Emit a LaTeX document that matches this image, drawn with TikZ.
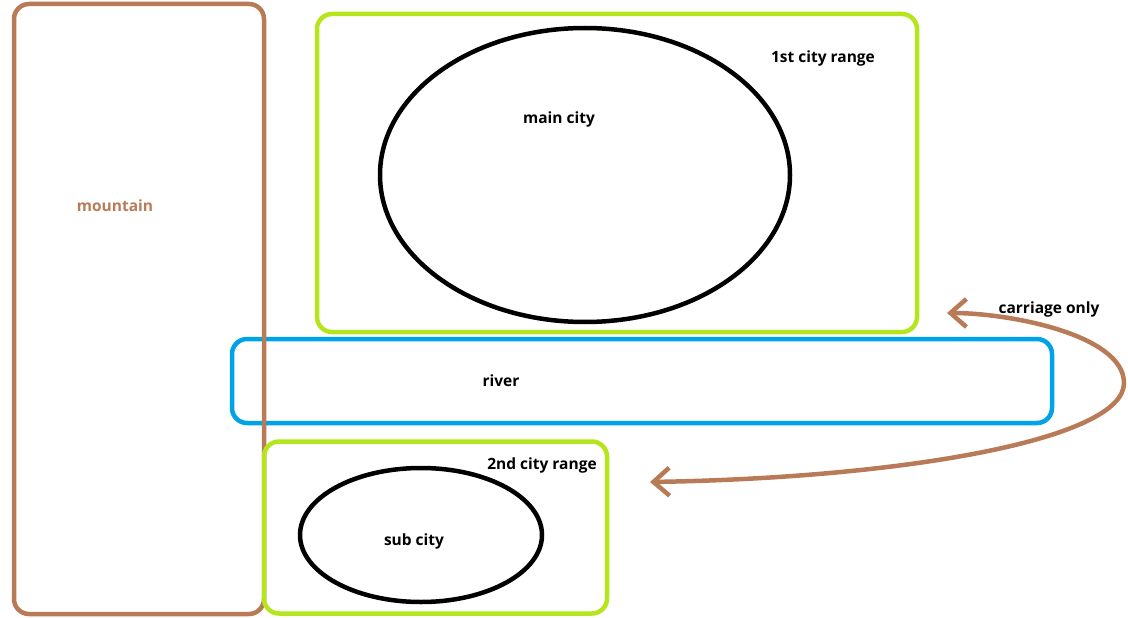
\documentclass[tikz,border=0pt]{standalone}
\usepackage{fontspec}
\setmainfont{Open Sans}
\usetikzlibrary{shapes,shapes.geometric,arrows.meta}
\definecolor{mount}{RGB}{185,122,87}
\definecolor{lime}{RGB}{181,230,29}
\definecolor{water}{RGB}{0,162,232}

\begin{document}
\begin{tikzpicture}[x=1pt,y=-1pt]
			\tikzstyle{area}=[rectangle, rounded corners=15pt, line width=4.5pt, inner sep=0pt]
			\tikzstyle{city}=[ellipse, draw=black, line width=4.5pt, inner sep=0pt]
			\tikzstyle{lbl}=[font=\fontsize{15.5}{18}\selectfont\bfseries, inner sep=0pt]
			\useasboundingbox (0,0) rectangle (1128,618);
			\node[area, draw=water, minimum width=820pt, minimum height=84pt] (river) at (642,381) {};
			\node[area, draw=mount, minimum width=250pt, minimum height=610pt] (mountain) at (139,309) {};
			\node[area, draw=lime, minimum width=600pt, minimum height=318pt] (range1) at (617,173) {};
			\node[area, draw=lime, minimum width=343pt, minimum height=172pt] (range2) at (435.5,527.5) {};
			\node[city, minimum width=410pt, minimum height=294pt] (main) at (585,175) {};
			\node[city, minimum width=242pt, minimum height=134pt] (sub) at (421,535) {};
			\node[lbl, text=mount] (mountlbl) at (115,206) {mountain};
			\node[lbl] (mainlbl) at (559,119) {main city};
			\node[lbl] (range1lbl) at (823,58) {1st city range};
			\node[lbl] (riverlbl) at (501,381) {river};
			\node[lbl] (sublbl) at (414,541) {sub city};
			\node[lbl] (range2lbl) at (542,465) {2nd city range};
			\node[lbl] (carlbl) at (1049,309) {carriage only};
			\coordinate (to1) at (947,313);
			\coordinate (to2) at (650,482);
			\coordinate (bend) at (1124,383);
			\draw[mount, line width=4.5pt, {Straight Barb[length=16pt,width=28pt]}-{Straight Barb[length=16pt,width=28pt]}]
				(to2) .. controls (900,478) and (1124,440) .. (bend)
				.. controls (1124,335) and (1010,313) .. (to1);
		\end{tikzpicture}
\end{document}
